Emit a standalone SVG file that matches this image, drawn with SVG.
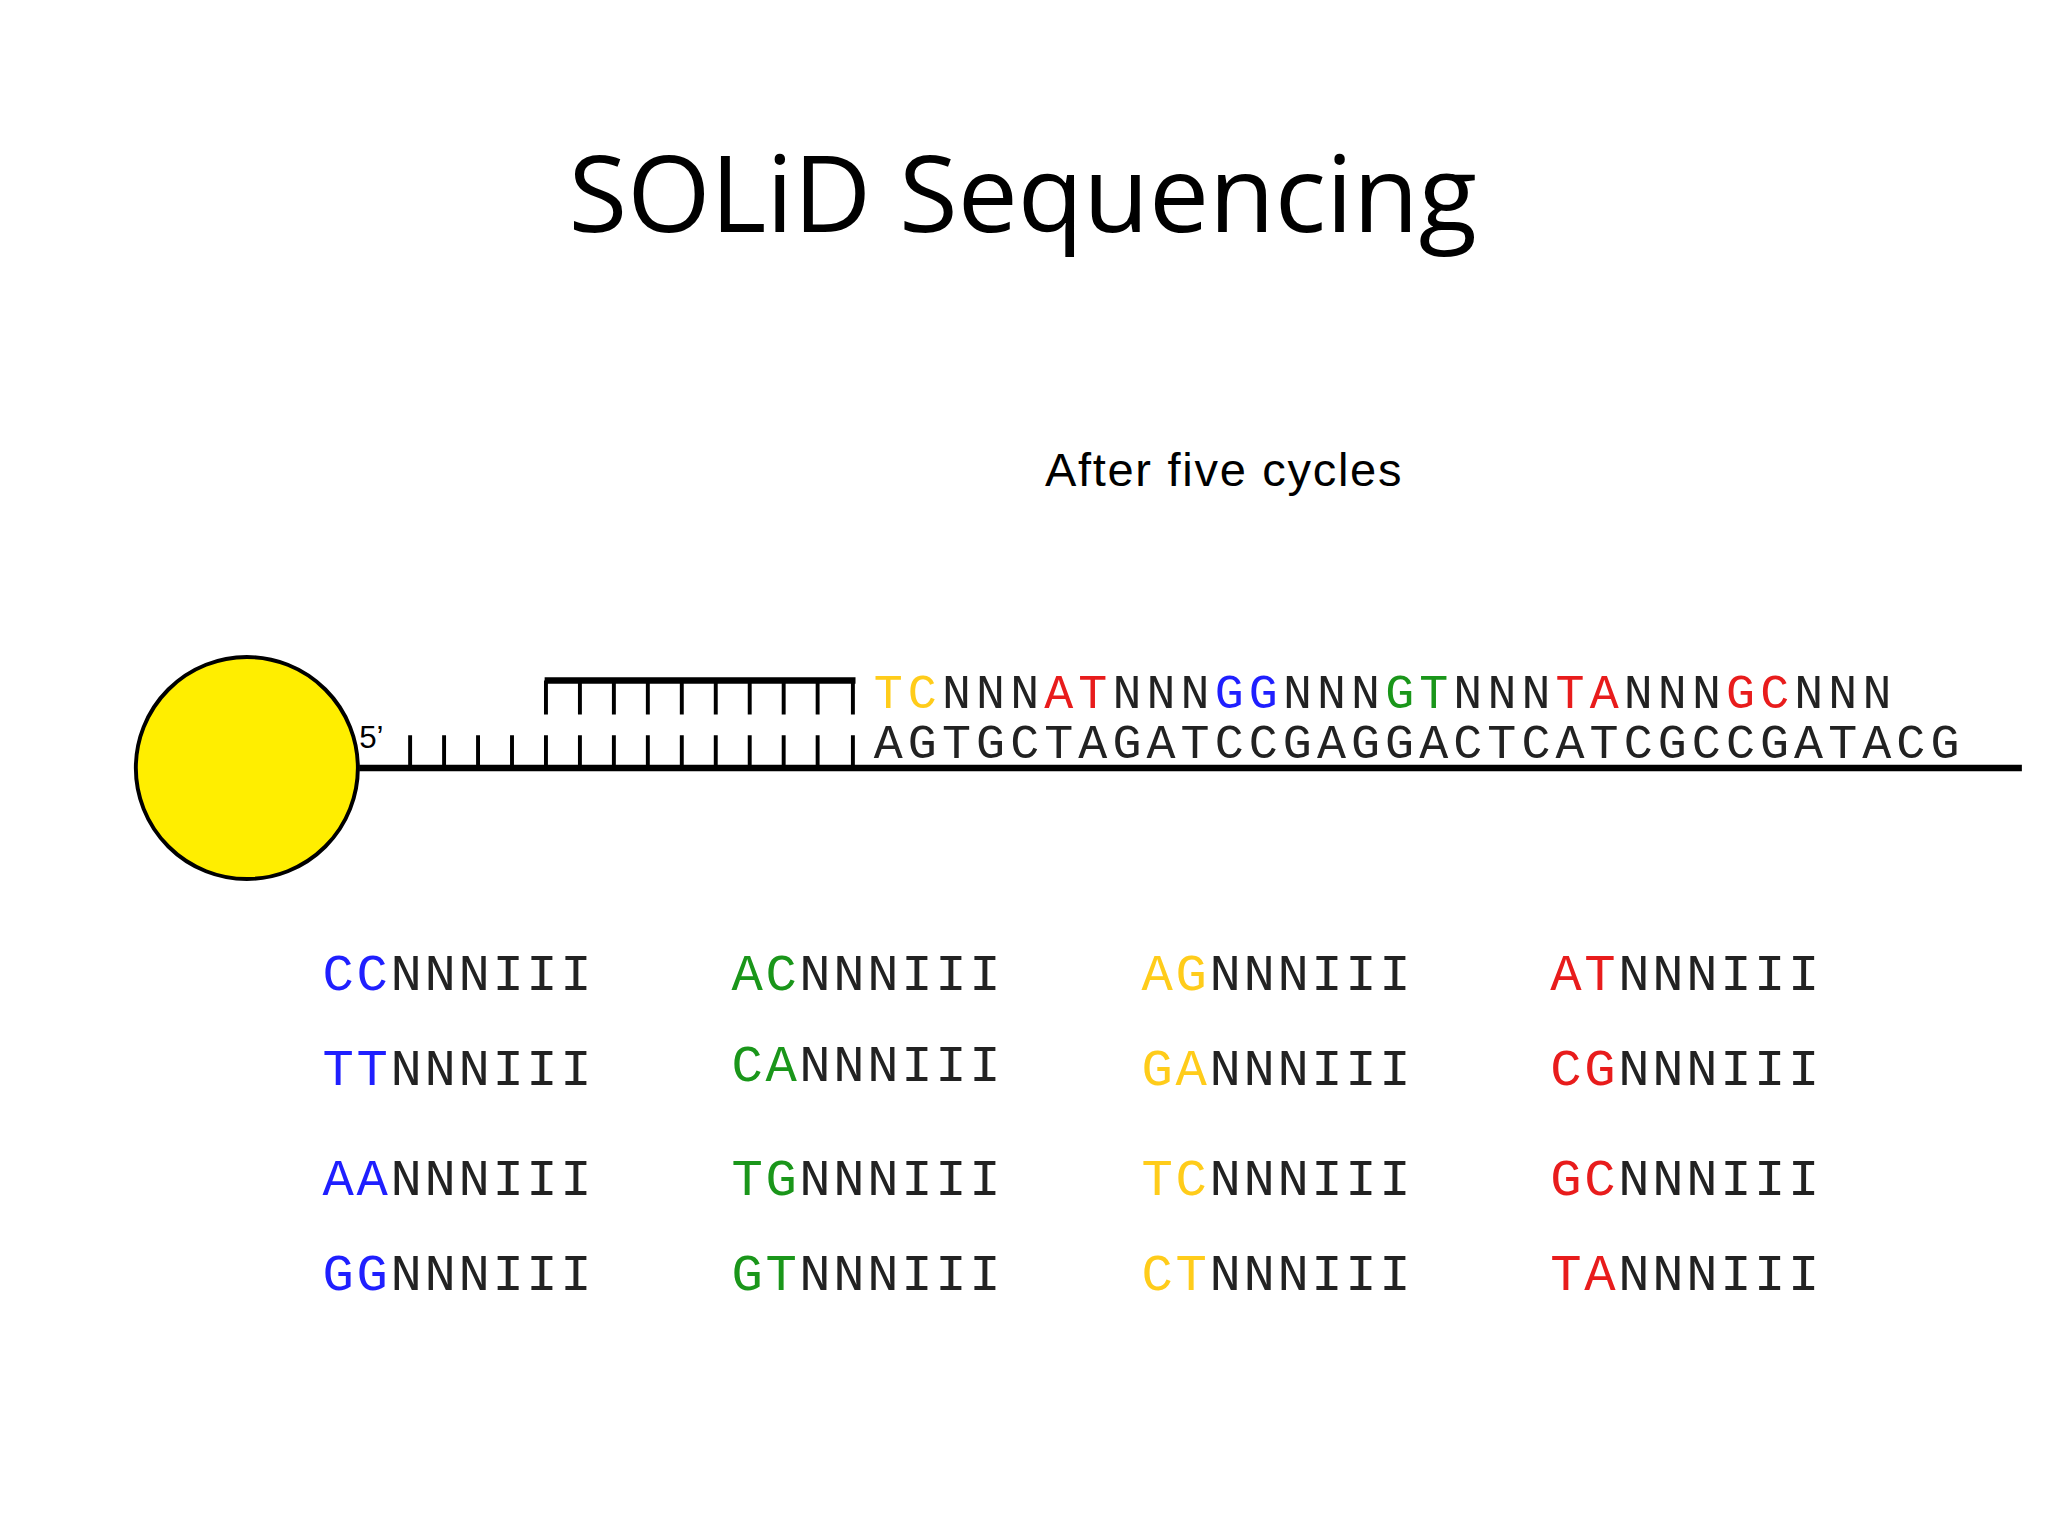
<svg xmlns="http://www.w3.org/2000/svg" width="2048" height="1536" viewBox="0 0 2048 1536">
<style>
.m{font-family:"Liberation Mono","Courier New",monospace;fill:#222}
.b{fill:#1f1fff}.g{fill:#1a961a}.y{fill:#ffcc1a}.r{fill:#e81c1c}
.k{stroke:#000;fill:none}
</style>
<rect width="2048" height="1536" fill="#fff"/>
<g transform="scale(1.30612)">
<text id="title" x="783" y="178" text-anchor="middle" font-family="Open Sans, sans-serif" font-size="82" fill="#000">SOLiD Sequencing</text>
<text id="sub" x="800" y="372" font-family="Liberation Sans, Arial, sans-serif" font-size="36" fill="#000" textLength="273">After five cycles</text>
<g id="bead"><circle cx="189" cy="588" r="85" fill="#ffee00" stroke="#000" stroke-width="3"/></g>
<g id="connectors">
<line class="k" x1="275" y1="588" x2="1548" y2="588" stroke-width="5"/>
<path class="k" stroke-width="3" d="M314 563V588M340 563V588M366 563V588M392 563V588M418 563V588M444 563V588M470 563V588M496 563V588M522 563V588M548 563V588M574 563V588M600 563V588M626 563V588M653 563V588"/>
<line class="k" x1="417" y1="521" x2="655" y2="521" stroke-width="5"/>
<path class="k" stroke-width="3" d="M418 521V547M444 521V547M470 521V547M496 521V547M522 521V547M548 521V547M574 521V547M600 521V547M626 521V547M653 521V547"/>
</g>
<text x="275" y="573" font-family="Liberation Sans, Arial, sans-serif" font-size="24" fill="#000">5’</text>
<g id="seq" font-size="37" letter-spacing="3.9">
<text class="m" x="669" y="542"><tspan class="y">TC</tspan>NNN<tspan class="r">AT</tspan>NNN<tspan class="b">GG</tspan>NNN<tspan class="g">GT</tspan>NNN<tspan class="r">TA</tspan>NNN<tspan class="r">GC</tspan>NNN</text>
<text class="m" x="669" y="580">AGTGCTAGATCCGAGGACTCATCGCCGATACG</text>
</g>
<g id="probes" font-size="40" letter-spacing="2">
<text class="m" x="247" y="758"><tspan class="b">CC</tspan>NNNIII</text>
<text class="m" x="247" y="831"><tspan class="b">TT</tspan>NNNIII</text>
<text class="m" x="247" y="915"><tspan class="b">AA</tspan>NNNIII</text>
<text class="m" x="247" y="988"><tspan class="b">GG</tspan>NNNIII</text>
<text class="m" x="560" y="758"><tspan class="g">AC</tspan>NNNIII</text>
<text class="m" x="560" y="828"><tspan class="g">CA</tspan>NNNIII</text>
<text class="m" x="560" y="915"><tspan class="g">TG</tspan>NNNIII</text>
<text class="m" x="560" y="988"><tspan class="g">GT</tspan>NNNIII</text>
<text class="m" x="874" y="758"><tspan class="y">AG</tspan>NNNIII</text>
<text class="m" x="874" y="831"><tspan class="y">GA</tspan>NNNIII</text>
<text class="m" x="874" y="915"><tspan class="y">TC</tspan>NNNIII</text>
<text class="m" x="874" y="988"><tspan class="y">CT</tspan>NNNIII</text>
<text class="m" x="1187" y="758"><tspan class="r">AT</tspan>NNNIII</text>
<text class="m" x="1187" y="831"><tspan class="r">CG</tspan>NNNIII</text>
<text class="m" x="1187" y="915"><tspan class="r">GC</tspan>NNNIII</text>
<text class="m" x="1187" y="988"><tspan class="r">TA</tspan>NNNIII</text>
</g>
</g>
</svg>
